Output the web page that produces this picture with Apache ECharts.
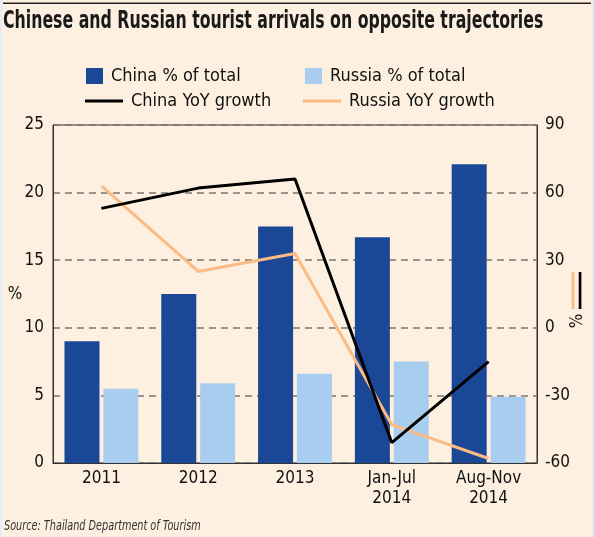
<!DOCTYPE html>
<html style="height: 100%">
<head>
	<meta charset="utf-8">
	<script src="https://cdn.jsdelivr.net/npm/echarts@6/dist/echarts.min.js"></script>
</head>
<body style="height: 100%; margin: 0; background-color: #fef0e0;">
<div id="container" style="width: 594px; height: 537px"></div>
<script type="text/javascript">
	var categories = ['2011', '2012', '2013', 'Jan-Jul\n2014', 'Aug-Nov\n2014'];
	var chinaShare = [9.0, 12.5, 17.5, 16.7, 22.1];
	var russiaShare = [5.5, 5.9, 6.6, 7.5, 4.9];
	var chinaGrowth = [53, 62, 66, -51, -15];
	var russiaGrowth = [63, 25, 33, -43, -58];
	var leftTicks = [0, 25, 5];     // min, max, interval
	var rightTicks = [-60, 90, 30];

	var font = "'Liberation Sans Narrow', 'DejaVu Sans Condensed', sans-serif";
	var chinaBlue = '#1a4796';
	var russiaBlue = '#a9cdee';
	var orange = '#fdbb84';

	var dom = document.getElementById('container');
	var myChart = echarts.init(dom);

	function legendFor(name, icon, left, top, w, h) {
		return {
			data: [{ name: name, icon: icon }],
			left: left,
			top: top,
			padding: 0,
			itemWidth: w,
			itemHeight: h,
			selectedMode: false,
			textStyle: {
				fontFamily: font,
				fontSize: 18,
				color: '#111',
				padding: [0, 0, 0, 3]
			}
		};
	}

	var option = {
		backgroundColor: '#fef0e0',
		animation: false,
		textStyle: { fontFamily: font },
		legend: [
			legendFor('China % of total', 'rect', 86, 67, 17, 16),
			legendFor('Russia % of total', 'rect', 305, 67, 17, 16),
			legendFor('China YoY growth', 'rect', 85, 92, 38, 3),
			legendFor('Russia YoY growth', 'rect', 303, 92, 38, 3)
		],
		grid: {
			left: 53,
			right: 57,
			top: 125,
			bottom: 74,
			show: true,
			borderColor: '#333',
			borderWidth: 1
		},
		xAxis: {
			type: 'category',
			data: categories,
			axisLine: { lineStyle: { color: '#333', width: 1 } },
			axisTick: { inside: true, length: 8, lineStyle: { color: '#333' } },
			axisLabel: {
				fontFamily: font,
				fontSize: 17,
				lineHeight: 20,
				color: '#111',
				margin: 6,
				interval: 0
			}
		},
		yAxis: [{
			type: 'value',
			min: leftTicks[0],
			max: leftTicks[1],
			interval: leftTicks[2],
			axisLine: { show: true, lineStyle: { color: '#333' } },
			axisTick: { show: false },
			axisLabel: {
				fontFamily: font,
				fontSize: 17,
				color: '#111',
				margin: 9,
				padding: [5, 0, 0, 0]
			},
			splitLine: {
				lineStyle: { color: '#7a7670', type: [7, 5], width: 1.5 }
			}
		}, {
			type: 'value',
			min: rightTicks[0],
			max: rightTicks[1],
			interval: rightTicks[2],
			position: 'right',
			axisLine: { show: true, lineStyle: { color: '#333' } },
			axisTick: { show: false },
			axisLabel: {
				fontFamily: font,
				fontSize: 17,
				color: '#111',
				margin: 8,
				padding: [5, 0, 0, 0]
			},
			splitLine: { show: false }
		}],
		graphic: [
			{ type: 'rect', shape: { x: 3, y: 2.5, width: 588, height: 1.6 }, style: { fill: '#222' } },
			{ type: 'rect', shape: { x: 0, y: 0, width: 2, height: 537 }, style: { fill: '#e6edf7' } },
			{ type: 'rect', shape: { x: 592, y: 0, width: 2, height: 537 }, style: { fill: '#e6edf7' } },
			{
				type: 'text', x: 3, y: 10, scaleX: 0.73,
				style: {
					text: 'Chinese and Russian tourist arrivals on opposite trajectories',
					fontFamily: font, fontSize: 24, fontWeight: 'bold', fill: '#1a1a1a',
					verticalAlign: 'top'
				}
			},
			{
				type: 'text', x: 15, y: 295,
				style: { text: '%', fontFamily: font, fontSize: 17, fill: '#111', align: 'center', verticalAlign: 'middle' }
			},
			{ type: 'rect', shape: { x: 571.7, y: 272, width: 2.7, height: 37 }, style: { fill: orange } },
			{ type: 'rect', shape: { x: 578.7, y: 272, width: 2.7, height: 37 }, style: { fill: '#000' } },
			{
				type: 'text', x: 578, y: 321, rotation: Math.PI / 2,
				style: { text: '%', fontFamily: font, fontSize: 17, fill: '#111', align: 'center', verticalAlign: 'middle' }
			},
			{
				type: 'text', x: 4, y: 519, scaleX: 0.77,
				style: {
					text: 'Source: Thailand Department of Tourism',
					fontFamily: font, fontSize: 14, fontStyle: 'italic', fill: '#333',
					verticalAlign: 'top'
				}
			}
		],
		series: [{
			name: 'China % of total',
			type: 'bar',
			data: chinaShare,
			barWidth: 35,
			barGap: '11%',
			itemStyle: { color: chinaBlue }
		}, {
			name: 'Russia % of total',
			type: 'bar',
			data: russiaShare,
			barWidth: 35,
			itemStyle: { color: russiaBlue }
		}, {
			name: 'Russia YoY growth',
			type: 'line',
			yAxisIndex: 1,
			data: russiaGrowth,
			symbol: 'none',
			z: 3,
			lineStyle: { color: orange, width: 3 },
			itemStyle: { color: orange }
		}, {
			name: 'China YoY growth',
			type: 'line',
			yAxisIndex: 1,
			data: chinaGrowth,
			symbol: 'none',
			z: 4,
			lineStyle: { color: '#000', width: 3 },
			itemStyle: { color: '#000' }
		}]
	};
	myChart.setOption(option);
</script>
</body>
</html>
